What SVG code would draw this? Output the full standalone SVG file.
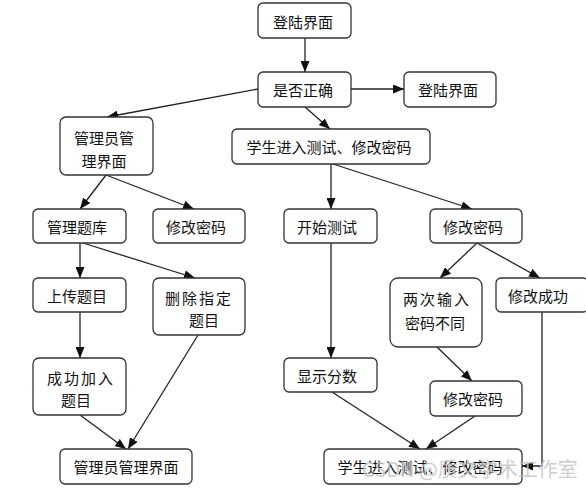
<svg xmlns="http://www.w3.org/2000/svg" width="586" height="489" viewBox="0 0 586 489">
<style>
.box{fill:#fff;stroke:#333;stroke-width:1.3}
.t{font-family:"Noto Sans CJK SC","Liberation Sans",sans-serif;font-size:15px;fill:#111;text-anchor:middle;dominant-baseline:central}
.w{letter-spacing:2px}
.c{fill:none;stroke:#222;stroke-width:1.3;marker-end:url(#ah)}
.wm{font-family:"Noto Sans CJK SC","Liberation Sans",sans-serif;font-size:20px;fill:#c4c4c4;fill-opacity:0.85}
</style>
<defs>
<marker id="ah" markerUnits="userSpaceOnUse" markerWidth="11" markerHeight="9" refX="11" refY="4.5" orient="auto">
<path d="M0,0 L11,4.5 L0,9 z" fill="#111"/>
</marker>
</defs>
<g id="connectors">
<line class="c" x1="305" y1="38" x2="305" y2="72"/>
<line class="c" x1="351" y1="89" x2="404" y2="89"/>
<line class="c" x1="305" y1="107" x2="330" y2="129"/>
<line class="c" x1="258" y1="89" x2="107" y2="117"/>
<line class="c" x1="106" y1="175" x2="80" y2="209"/>
<line class="c" x1="106" y1="175" x2="194" y2="209"/>
<line class="c" x1="80" y1="243" x2="80" y2="278"/>
<line class="c" x1="83" y1="243" x2="195" y2="278"/>
<line class="c" x1="80" y1="312" x2="80" y2="358"/>
<line class="c" x1="80" y1="415" x2="126" y2="449"/>
<line class="c" x1="198" y1="335" x2="128" y2="449"/>
<line class="c" x1="331" y1="164" x2="331" y2="209"/>
<line class="c" x1="333" y1="164" x2="472" y2="209"/>
<line class="c" x1="477" y1="243" x2="440" y2="278"/>
<line class="c" x1="477" y1="243" x2="540" y2="278"/>
<line class="c" x1="331" y1="243" x2="331" y2="358"/>
<line class="c" x1="437" y1="347" x2="472" y2="381"/>
<line class="c" x1="332" y1="392" x2="420" y2="449"/>
<line class="c" x1="475" y1="416" x2="426" y2="449"/>
<polyline class="c" points="542,312 542,466 522,466"/>
</g>
<g id="n1"><rect class="box" x="258" y="3" width="93" height="35" rx="5"/><text class="t" x="303" y="21">登陆界面</text></g>
<g id="n2"><rect class="box" x="258" y="72" width="93" height="35" rx="5"/><text class="t" x="303" y="89.5">是否正确</text></g>
<g id="n3"><rect class="box" x="404" y="72" width="92" height="35" rx="5"/><text class="t" x="448" y="89.5">登陆界面</text></g>
<g id="n4"><rect class="box" x="60" y="117" width="93" height="58" rx="6"/><text class="t" x="104" y="137">管理员管</text><text class="t" x="104" y="160">理界面</text></g>
<g id="n5"><rect class="box" x="232" y="129" width="198" height="35" rx="5"/><text class="t" x="329" y="146.5">学生进入测试、修改密码</text></g>
<g id="n6"><rect class="box" x="33" y="209" width="93" height="34" rx="5"/><text class="t" x="77" y="226">管理题库</text></g>
<g id="n7"><rect class="box" x="153" y="209" width="92" height="34" rx="5"/><text class="t" x="196" y="226">修改密码</text></g>
<g id="n8"><rect class="box" x="284" y="209" width="93" height="34" rx="5"/><text class="t" x="327" y="226">开始测试</text></g>
<g id="n9"><rect class="box" x="430" y="209" width="92" height="34" rx="5"/><text class="t" x="473" y="226">修改密码</text></g>
<g id="n10"><rect class="box" x="33" y="278" width="93" height="34" rx="5"/><text class="t" x="77" y="295">上传题目</text></g>
<g id="n11"><rect class="box" x="153" y="278" width="92" height="57" rx="6"/><text class="t w" x="199" y="297">删除指定</text><text class="t" x="204" y="319">题目</text></g>
<g id="n12"><rect class="box" x="390" y="278" width="92" height="69" rx="8"/><text class="t w" x="437" y="298">两次输入</text><text class="t" x="435" y="322">密码不同</text></g>
<g id="n13"><rect class="box" x="496" y="278" width="92" height="34" rx="5"/><text class="t" x="538" y="295">修改成功</text></g>
<g id="n14"><rect class="box" x="33" y="358" width="93" height="57" rx="6"/><text class="t w" x="81" y="377">成功加入</text><text class="t" x="76" y="399">题目</text></g>
<g id="n15"><rect class="box" x="284" y="358" width="93" height="34" rx="5"/><text class="t" x="327" y="375">显示分数</text></g>
<g id="n16"><rect class="box" x="430" y="381" width="92" height="35" rx="5"/><text class="t" x="473" y="398">修改密码</text></g>
<g id="n17"><rect class="box" x="60" y="449" width="132" height="35" rx="5"/><text class="t" x="126" y="466.5">管理员管理界面</text></g>
<g id="n18"><rect class="box" x="324" y="449" width="198" height="35" rx="5"/><text class="t" x="420" y="466.5">学生进入测试、修改密码</text></g>
<text class="wm" x="362" y="477">CSDN @质文学术工作室</text>
</svg>
